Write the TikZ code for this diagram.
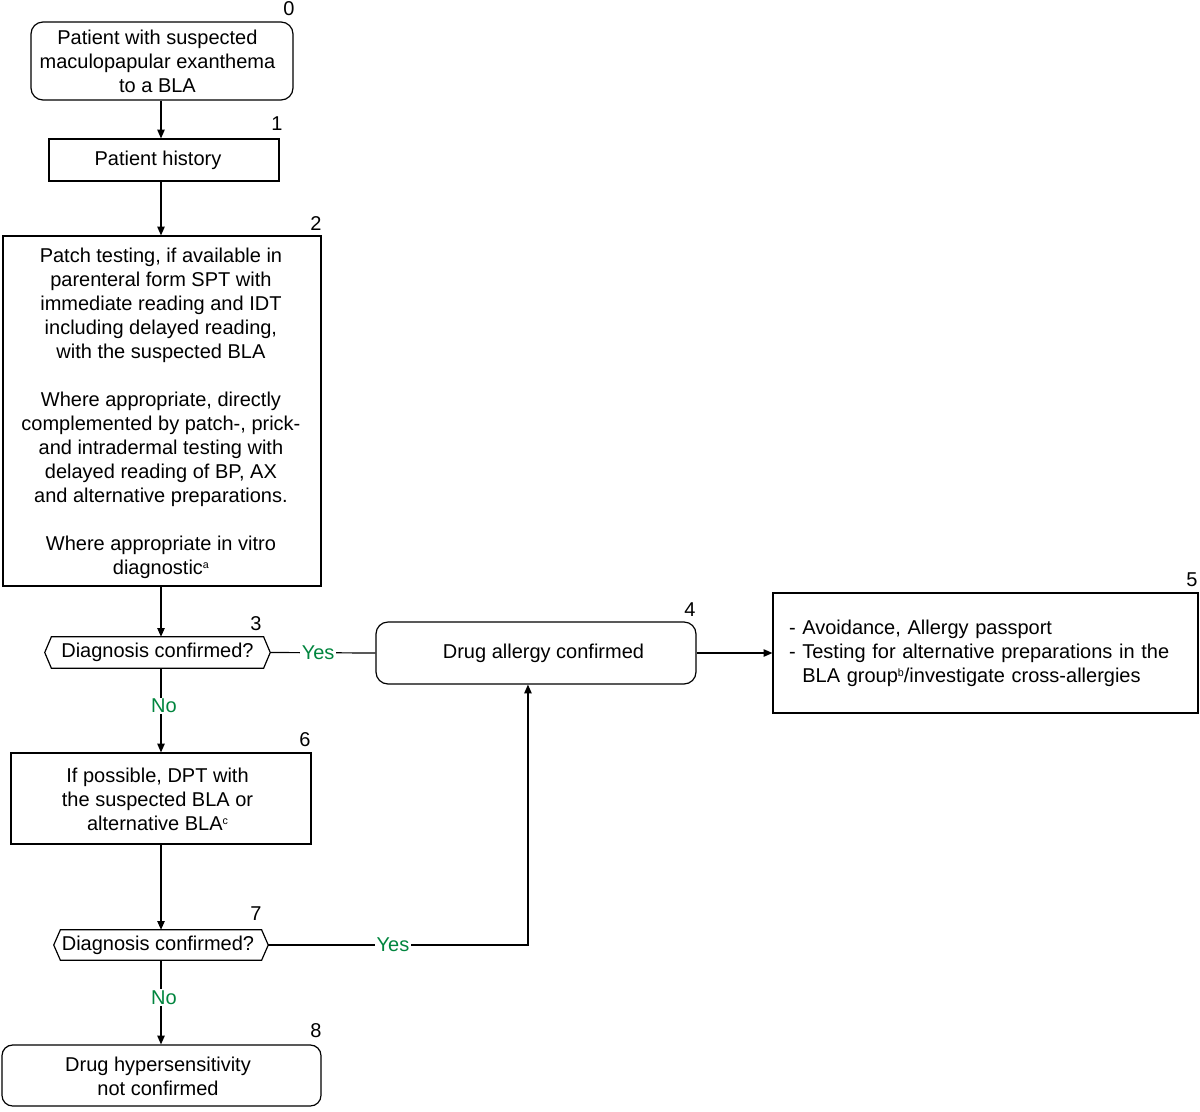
\documentclass[tikz,border=0pt]{standalone}
\usepackage{fontspec}
\setmainfont{Liberation Sans}
\usetikzlibrary{arrows.meta,calc}
\definecolor{yesno}{RGB}{0,133,62}
\newcommand{\supx}[1]{\raisebox{0.55ex}{\fontsize{8}{8}\selectfont #1}}
% shift text horizontally by #2 and downward by #1
\newcommand{\tsh}[3][2.25pt]{\hspace*{#2}\raisebox{0pt}[\dimexpr\height+#1+#1\relax][\depth]{\begin{tabular}{@{}c@{}}#3\end{tabular}}\hspace*{-#2}}
\begin{document}
\begin{tikzpicture}[x=0.75pt,y=-0.75pt,
  every node/.style={font=\fontsize{15}{18}\selectfont, inner sep=0pt},
  box/.style={draw, line width=0.9pt},
  rbox/.style={box, rounded corners=9pt},
  hexbox/.style={},
  num/.style={font=\fontsize{15}{18}\selectfont},
  lnk/.style={line width=0.9pt},
  arr/.style={lnk, -{Triangle[length=6.5pt,width=5.5pt]}},
  yn/.style={text=yesno, fill=white, inner sep=1pt}]
\useasboundingbox (0,0) rectangle (1200,1111);
\coordinate (col) at (161,0);

% nodes
\node[rbox, minimum width=196.5pt, minimum height=58.5pt] (n0) at (162,61)
  {\tsh{-3.4pt}{Patient with suspected\\maculopapular exanthema\\to a BLA}};
\node[box, minimum width=172.5pt, minimum height=31.5pt] (n1) at (164,160)
  {\tsh[0.75pt]{-4.5pt}{Patient history}};
\node[box, minimum width=238.5pt, minimum height=262.5pt] (n2) at (162,411)
  {\tsh{-0.8pt}{Patch testing, if available in\\parenteral form SPT with\\immediate reading and IDT\\including delayed reading,\\with the suspected BLA\\[18pt]
   Where appropriate, directly\\complemented by patch-, prick-\\and intradermal testing with\\delayed reading of BP, AX\\and alternative preparations.\\[18pt]
   Where appropriate in vitro\\diagnostic\supx{a}}};
\node[hexbox, minimum width=168.75pt, minimum height=23.25pt] (n3) at (157.5,652.5) {Diagnosis confirmed?};
\node[rbox, minimum width=240pt, minimum height=46.5pt] (n4) at (536,653)
  {\tsh[0.75pt]{5.6pt}{Drug allergy confirmed}};
\node[box, align=left, text width=294.75pt, inner xsep=12pt, minimum height=90pt] (n5) at (985.5,653)
  {- Avoidance, Allergy passport\\- Testing for alternative preparations in the\\\phantom{- }BLA group\supx{b}/investigate cross-allergies};
\node[box, minimum width=225pt, minimum height=68.25pt] (n6) at (161,798.5)
  {\tsh{-2.6pt}{If possible, DPT with\\the suspected BLA or\\alternative BLA\supx{c}}};
\node[hexbox, minimum width=160.5pt, minimum height=22.5pt] (n7) at (161,945)
  {\tsh[0.75pt]{-2.25pt}{Diagnosis confirmed?}};
\node[rbox, rounded corners=8pt, minimum width=239.25pt, minimum height=45.75pt] (n8) at (161.5,1075.5)
  {\tsh{-2.6pt}{Drug hypersensitivity\\not confirmed}};

% hexagon outlines
\foreach \h in {n3,n7}{
  \draw[lnk] ([xshift=5pt]\h.north west) -- ([xshift=-5pt]\h.north east) -- (\h.east)
    -- ([xshift=-5pt]\h.south east) -- ([xshift=5pt]\h.south west) -- (\h.west) -- cycle;
}

% step numbers
\node[num] (l0) at (289,9) {0};
\node[num] (l1) at (277,124) {1};
\node[num] (l2) at (316,224) {2};
\node[num] (l3) at (256,624) {3};
\node[num] (l4) at (690,610) {4};
\node[num] (l5) at (1192,580) {5};
\node[num] (l6) at (305,740) {6};
\node[num] (l7) at (256,914) {7};
\node[num] (l8) at (316,1031) {8};

% connectors
\draw[arr] (n0.south -| col) -- (n1.north -| col);
\draw[arr] (n1.south -| col) -- (n2.north -| col);
\draw[arr] (n2.south -| col) -- (n3.north -| col);
\draw[lnk] (n3.east) -- node[yn, pos=0.455] {Yes} (n4.west);
\draw[arr] (n4.east) -- (n5.west);
\draw[arr] (n3.south -| col) -- node[yn, pos=0.45, xshift=2.25pt] {No} (n6.north -| col);
\draw[arr] (n6.south -| col) -- (n7.north -| col);
\draw[arr] (n7.east) -| node[yn, pos=0.24] {Yes} ($(n4.south west)!0.475!(n4.south east)$);
\draw[arr] (n7.south -| col) -- node[yn, pos=0.44, xshift=2.25pt] {No} (n8.north -| col);
\end{tikzpicture}
\end{document}
